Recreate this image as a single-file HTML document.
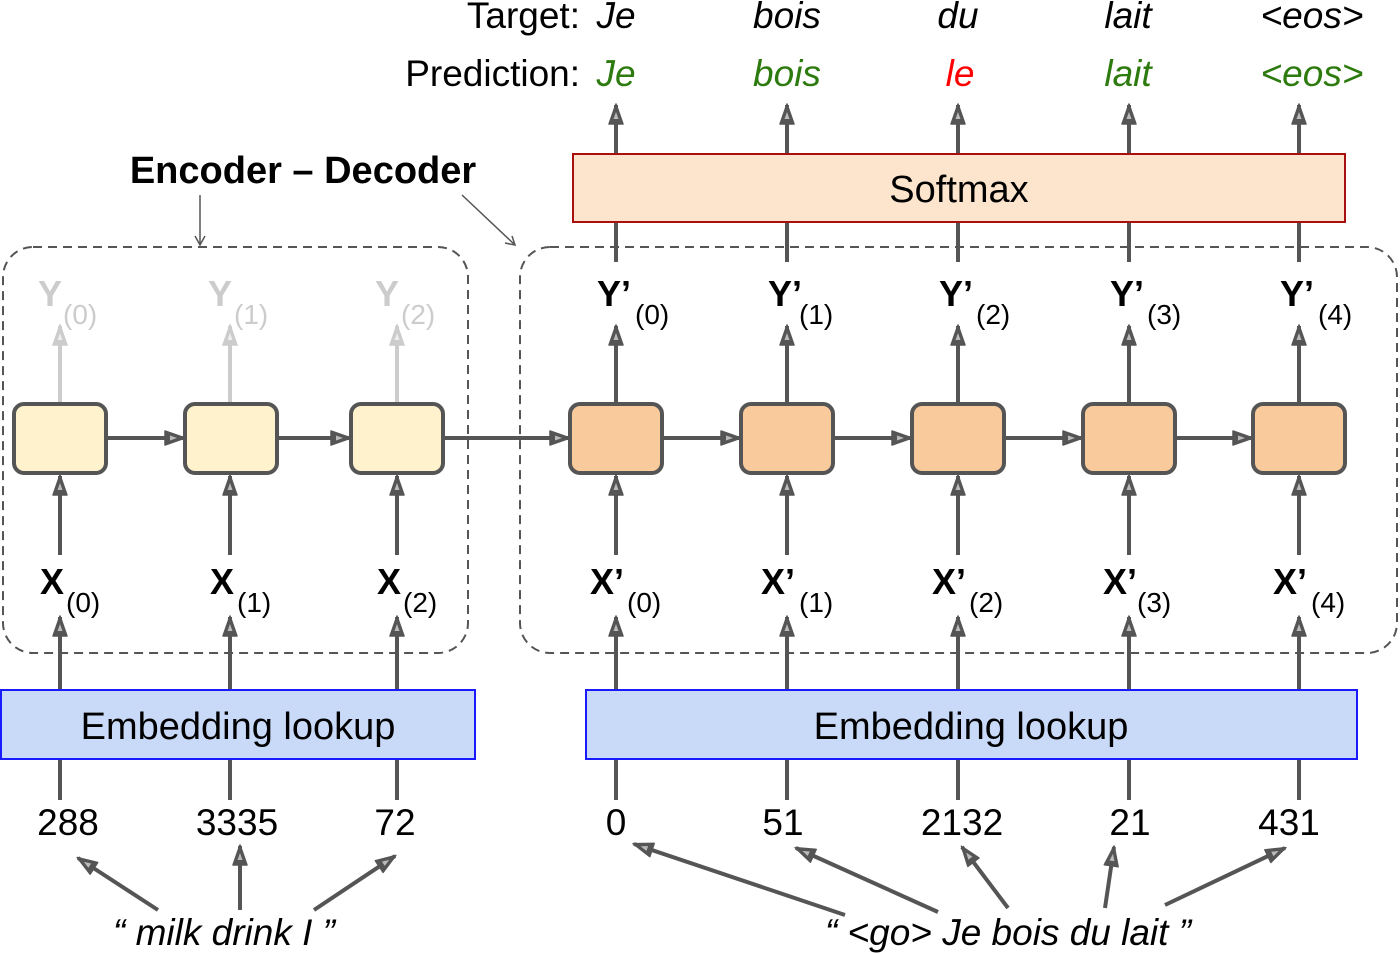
<!DOCTYPE html>
<html><head><meta charset="utf-8"><style>
html,body{margin:0;padding:0;background:#fff}
svg{display:block;font-family:"Liberation Sans",Arial,sans-serif}
</style></head><body>
<svg width="1400" height="954" viewBox="0 0 1400 954" xmlns="http://www.w3.org/2000/svg">
<defs>
<marker id="a" viewBox="0 0 22 16" refX="20" refY="8" markerWidth="22" markerHeight="16" markerUnits="userSpaceOnUse" orient="auto">
<path d="M1,1 L21,8 L1,15 Z" fill="#555" stroke="#555" stroke-width="1.5" stroke-linejoin="round"/>
<path d="M6,5.5 L13,8 L6,10.5 Z" fill="#bbb"/>
</marker>
<marker id="g" viewBox="0 0 22 16" refX="20" refY="8" markerWidth="22" markerHeight="16" markerUnits="userSpaceOnUse" orient="auto">
<path d="M1,1 L21,8 L1,15 Z" fill="#ccc" stroke="#ccc" stroke-width="1.5"/>
<path d="M6,5.5 L13,8 L6,10.5 Z" fill="#eee"/>
</marker>
</defs>

<!-- top text -->
<g font-size="37">
<text x="580" y="28" text-anchor="end">Target:</text>
<text x="580" y="86" text-anchor="end">Prediction:</text>
<g font-style="italic">
<text x="616" y="28" text-anchor="middle">Je</text>
<text x="787" y="28" text-anchor="middle">bois</text>
<text x="958" y="28" text-anchor="middle">du</text>
<text x="1128" y="28" text-anchor="middle">lait</text>
<text x="1312" y="28" text-anchor="middle">&lt;eos&gt;</text>
<text x="616" y="86" text-anchor="middle" fill="#2d7a0e">Je</text>
<text x="787" y="86" text-anchor="middle" fill="#2d7a0e">bois</text>
<text x="960" y="86" text-anchor="middle" fill="#f00">le</text>
<text x="1128" y="86" text-anchor="middle" fill="#2d7a0e">lait</text>
<text x="1312" y="86" text-anchor="middle" fill="#2d7a0e">&lt;eos&gt;</text>
</g></g>

<text x="303" y="183" font-size="38" font-weight="bold" text-anchor="middle">Encoder – Decoder</text>
<g stroke="#555" stroke-width="1.5" fill="none">
<line x1="200" y1="195" x2="200" y2="244"/><path d="M195,236 L200,245 L205,236" />
<line x1="462" y1="195" x2="515" y2="245"/><path d="M505,243 L515,245 L512,236"/>
</g>

<!-- dashed boxes -->
<rect x="3" y="247" width="465" height="406" rx="30" fill="none" stroke="#555" stroke-width="2" stroke-dasharray="9,6"/>
<rect x="520" y="247" width="877" height="406" rx="30" fill="none" stroke="#555" stroke-width="2" stroke-dasharray="9,6"/>

<!-- softmax arrows -->
<g stroke="#555" stroke-width="4" fill="none">
<line x1="616" y1="262" x2="616" y2="105" marker-end="url(#a)"/>
<line x1="787" y1="262" x2="787" y2="105" marker-end="url(#a)"/>
<line x1="958" y1="262" x2="958" y2="105" marker-end="url(#a)"/>
<line x1="1129" y1="262" x2="1129" y2="105" marker-end="url(#a)"/>
<line x1="1299" y1="262" x2="1299" y2="105" marker-end="url(#a)"/>
</g>
<rect x="573" y="154" width="772" height="68" fill="#fde4cc" stroke="#a81010" stroke-width="2"/>
<text x="959" y="202" font-size="38" text-anchor="middle">Softmax</text>

<!-- encoder Y arrows -->
<g stroke="#ccc" stroke-width="4">
<line x1="60" y1="403" x2="60" y2="326" marker-end="url(#g)"/>
<line x1="230" y1="403" x2="230" y2="326" marker-end="url(#g)"/>
<line x1="397" y1="403" x2="397" y2="326" marker-end="url(#g)"/>
</g>
<g fill="#ccc">
<text x="38" y="306" font-size="36" font-weight="bold">Y</text><text x="63" y="324" font-size="28">(0)</text>
<text x="208" y="306" font-size="36" font-weight="bold">Y</text><text x="234" y="324" font-size="28">(1)</text>
<text x="375" y="306" font-size="36" font-weight="bold">Y</text><text x="401" y="324" font-size="28">(2)</text>
</g>

<!-- vertical arrows -->
<g stroke="#555" stroke-width="4">
<line x1="616" y1="403" x2="616" y2="326" marker-end="url(#a)"/>
<line x1="787" y1="403" x2="787" y2="326" marker-end="url(#a)"/>
<line x1="958" y1="403" x2="958" y2="326" marker-end="url(#a)"/>
<line x1="1129" y1="403" x2="1129" y2="326" marker-end="url(#a)"/>
<line x1="1299" y1="403" x2="1299" y2="326" marker-end="url(#a)"/>
<g id="vx">
<line x1="60" y1="555" x2="60" y2="476" marker-end="url(#a)"/>
<line x1="60" y1="690" x2="60" y2="617" marker-end="url(#a)"/>
</g>
<use href="#vx" x="170"/><use href="#vx" x="337"/>
<use href="#vx" x="556"/><use href="#vx" x="727"/><use href="#vx" x="898"/><use href="#vx" x="1069"/><use href="#vx" x="1239"/>
<line x1="60" y1="759" x2="60" y2="800"/><line x1="230" y1="759" x2="230" y2="800"/><line x1="397" y1="759" x2="397" y2="800"/>
<line x1="616" y1="759" x2="616" y2="800"/><line x1="787" y1="759" x2="787" y2="800"/><line x1="958" y1="759" x2="958" y2="800"/><line x1="1129" y1="759" x2="1129" y2="800"/><line x1="1299" y1="759" x2="1299" y2="800"/>
<line x1="106" y1="438" x2="184" y2="438" marker-end="url(#a)"/>
<line x1="277" y1="438" x2="350" y2="438" marker-end="url(#a)"/>
<line x1="443" y1="438" x2="569" y2="438" marker-end="url(#a)"/>
<line x1="662" y1="438" x2="740" y2="438" marker-end="url(#a)"/>
<line x1="833" y1="438" x2="911" y2="438" marker-end="url(#a)"/>
<line x1="1004" y1="438" x2="1082" y2="438" marker-end="url(#a)"/>
<line x1="1175" y1="438" x2="1252" y2="438" marker-end="url(#a)"/>
</g>

<!-- cells -->
<g stroke="#555" stroke-width="4">
<rect x="14" y="404" width="92" height="69" rx="10" fill="#fff2cc"/>
<rect x="185" y="404" width="92" height="69" rx="10" fill="#fff2cc"/>
<rect x="351" y="404" width="92" height="69" rx="10" fill="#fff2cc"/>
<rect x="570" y="404" width="92" height="69" rx="10" fill="#f9cb9c"/>
<rect x="741" y="404" width="92" height="69" rx="10" fill="#f9cb9c"/>
<rect x="912" y="404" width="92" height="69" rx="10" fill="#f9cb9c"/>
<rect x="1083" y="404" width="92" height="69" rx="10" fill="#f9cb9c"/>
<rect x="1253" y="404" width="92" height="69" rx="10" fill="#f9cb9c"/>
</g>

<g font-size="36" font-weight="bold">
<text x="597" y="306">Y’</text><text x="768" y="306">Y’</text><text x="939" y="306">Y’</text><text x="1110" y="306">Y’</text><text x="1280" y="306">Y’</text>
<text x="40" y="594">X</text><text x="210" y="594">X</text><text x="377" y="594">X</text>
<text x="590" y="594">X’</text><text x="761" y="594">X’</text><text x="932" y="594">X’</text><text x="1103" y="594">X’</text><text x="1273" y="594">X’</text>
</g>
<g font-size="28">
<text x="635" y="324">(0)</text><text x="799" y="324">(1)</text><text x="976" y="324">(2)</text><text x="1147" y="324">(3)</text><text x="1318" y="324">(4)</text>
<text x="66" y="612">(0)</text><text x="237" y="612">(1)</text><text x="403" y="612">(2)</text>
<text x="627" y="612">(0)</text><text x="799" y="612">(1)</text><text x="969" y="612">(2)</text><text x="1137" y="612">(3)</text><text x="1311" y="612">(4)</text>
</g>

<rect x="1" y="690" width="474" height="69" fill="#c9daf8" stroke="#1a1aff" stroke-width="2"/>
<rect x="586" y="690" width="771" height="69" fill="#c9daf8" stroke="#1a1aff" stroke-width="2"/>
<text x="238" y="739" font-size="38" text-anchor="middle">Embedding lookup</text>
<text x="971" y="739" font-size="38" text-anchor="middle">Embedding lookup</text>

<g font-size="37" text-anchor="middle">
<text x="68" y="835">288</text><text x="237" y="835">3335</text><text x="395" y="835">72</text>
<text x="616" y="835">0</text><text x="783" y="835">51</text><text x="962" y="835">2132</text><text x="1130" y="835">21</text><text x="1289" y="835">431</text>
</g>

<g stroke="#555" stroke-width="4">
<line x1="158" y1="910" x2="78" y2="858" marker-end="url(#a)"/>
<line x1="240" y1="910" x2="240" y2="846" marker-end="url(#a)"/>
<line x1="314" y1="910" x2="395" y2="856" marker-end="url(#a)"/>
<line x1="845" y1="915" x2="634" y2="844" marker-end="url(#a)"/>
<line x1="938" y1="912" x2="796" y2="848" marker-end="url(#a)"/>
<line x1="1008" y1="908" x2="962" y2="847" marker-end="url(#a)"/>
<line x1="1105" y1="908" x2="1114" y2="847" marker-end="url(#a)"/>
<line x1="1165" y1="905" x2="1285" y2="848" marker-end="url(#a)"/>
</g>
<g font-size="37" font-style="italic" text-anchor="middle">
<text x="224" y="945">“ milk drink I ”</text>
<text x="1008" y="945">“ &lt;go&gt; Je bois du lait ”</text>
</g>
</svg>
</body></html>
